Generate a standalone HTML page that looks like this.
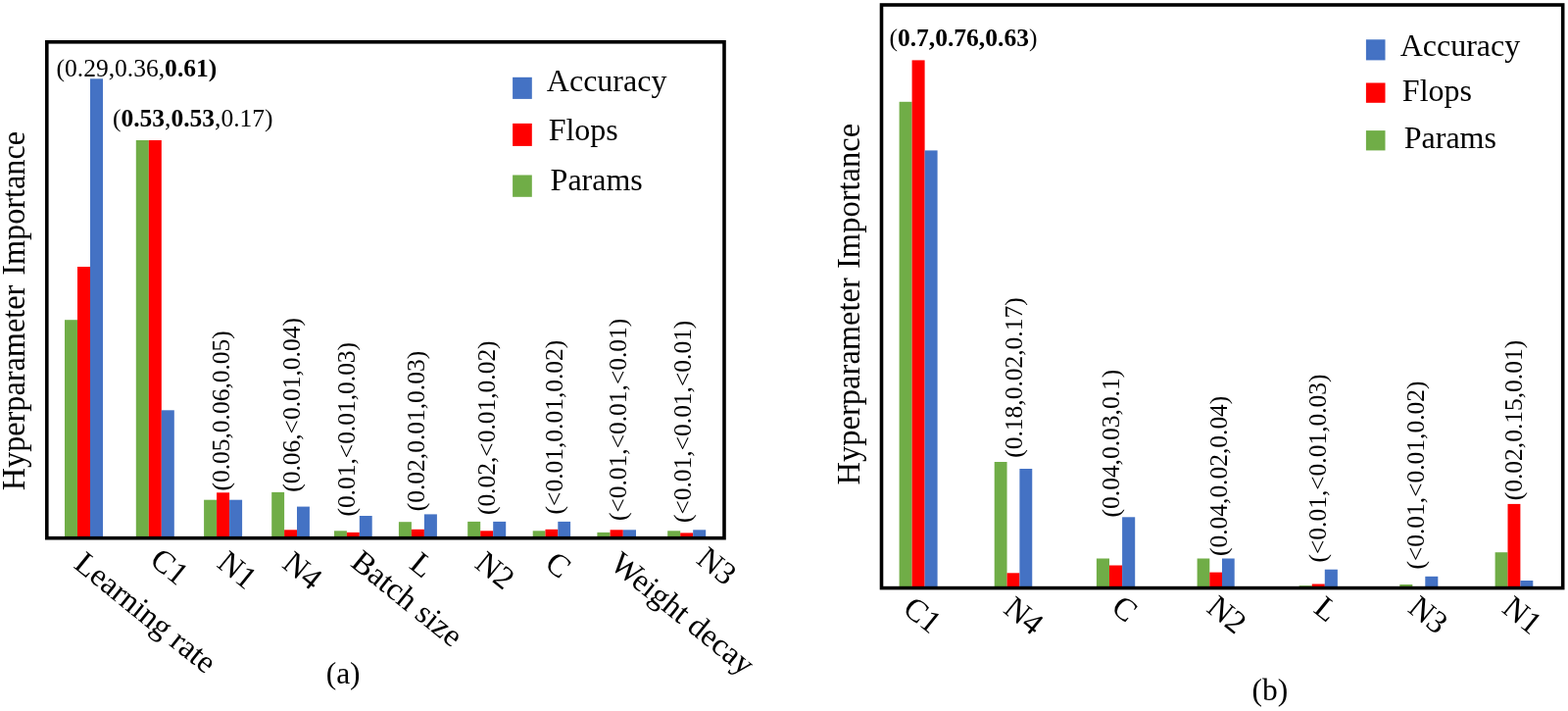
<!DOCTYPE html>
<html><head><meta charset="utf-8"><title>Hyperparameter Importance</title>
<style>
html,body{margin:0;padding:0;background:#fff;}
body{width:1600px;height:725px;overflow:hidden;}
svg{display:block;}
svg text{font-family:"Liberation Serif", serif;fill:#000;}
</style></head><body>
<svg width="1600" height="725" viewBox="0 0 1600 725">
<rect x="0" y="0" width="1600" height="725" fill="#fff"/>
<rect x="66.00" y="326.20" width="13.00" height="222.50" fill="#70AD47"/>
<rect x="79.00" y="272.00" width="13.00" height="276.70" fill="#FF0000"/>
<rect x="92.00" y="80.30" width="13.00" height="468.40" fill="#4472C4"/>
<rect x="138.80" y="143.00" width="13.00" height="405.70" fill="#70AD47"/>
<rect x="151.80" y="143.00" width="13.00" height="405.70" fill="#FF0000"/>
<rect x="164.80" y="418.30" width="13.00" height="130.40" fill="#4472C4"/>
<rect x="208.10" y="509.70" width="13.00" height="39.00" fill="#70AD47"/>
<rect x="221.10" y="502.30" width="13.00" height="46.40" fill="#FF0000"/>
<rect x="234.10" y="509.70" width="13.00" height="39.00" fill="#4472C4"/>
<rect x="277.20" y="501.90" width="12.90" height="46.80" fill="#70AD47"/>
<rect x="290.10" y="540.30" width="12.90" height="8.40" fill="#FF0000"/>
<rect x="303.00" y="516.60" width="12.90" height="32.10" fill="#4472C4"/>
<rect x="341.00" y="541.30" width="12.90" height="7.40" fill="#70AD47"/>
<rect x="353.90" y="542.90" width="12.90" height="5.80" fill="#FF0000"/>
<rect x="366.80" y="526.00" width="12.90" height="22.70" fill="#4472C4"/>
<rect x="406.90" y="532.20" width="13.00" height="16.50" fill="#70AD47"/>
<rect x="419.90" y="539.80" width="13.00" height="8.90" fill="#FF0000"/>
<rect x="432.90" y="524.40" width="13.00" height="24.30" fill="#4472C4"/>
<rect x="477.20" y="531.90" width="13.00" height="16.80" fill="#70AD47"/>
<rect x="490.20" y="541.30" width="13.00" height="7.40" fill="#FF0000"/>
<rect x="503.20" y="531.90" width="13.00" height="16.80" fill="#4472C4"/>
<rect x="543.70" y="541.30" width="12.80" height="7.40" fill="#70AD47"/>
<rect x="556.50" y="539.80" width="12.80" height="8.90" fill="#FF0000"/>
<rect x="569.30" y="531.90" width="12.80" height="16.80" fill="#4472C4"/>
<rect x="609.40" y="542.90" width="13.20" height="5.80" fill="#70AD47"/>
<rect x="622.60" y="540.30" width="13.20" height="8.40" fill="#FF0000"/>
<rect x="635.80" y="540.30" width="13.20" height="8.40" fill="#4472C4"/>
<rect x="681.20" y="541.30" width="13.00" height="7.40" fill="#70AD47"/>
<rect x="694.20" y="543.40" width="13.00" height="5.30" fill="#FF0000"/>
<rect x="707.20" y="540.30" width="13.00" height="8.40" fill="#4472C4"/>
<rect x="47.8" y="42.8" width="691.2" height="505.9" fill="none" stroke="#000" stroke-width="3.6"/>
<text transform="translate(25.30,500.30) rotate(-90) scale(1.0085,1.036)" font-size="32" word-spacing="1.9">Hyperparameter Importance</text>
<text transform="translate(57.57,77.80) scale(1.021,1)" font-size="25">(0.29,0.36,<tspan font-weight="bold">0.61)</tspan></text>
<text transform="translate(114.88,128.90) scale(1.021,1)" font-size="25">(<tspan font-weight="bold">0.53</tspan>,<tspan font-weight="bold">0.53</tspan>,0.17)</text>
<text transform="translate(233.70,500.55) rotate(-90) scale(1.019,1)" font-size="25">(0.05,0.06,0.05)</text>
<text transform="translate(305.50,501.80) rotate(-90) scale(1.019,1)" font-size="25">(0.06,&lt;0.01,0.04)</text>
<text transform="translate(361.62,526.60) rotate(-90) scale(1.019,1)" font-size="25">(0.01,&lt;0.01,0.03)</text>
<text transform="translate(432.50,521.20) rotate(-90) scale(1.019,1)" font-size="25">(0.02,0.01,0.03)</text>
<text transform="translate(505.05,525.08) rotate(-90) scale(1.019,1)" font-size="25">(0.02,&lt;0.01,0.02)</text>
<text transform="translate(574.45,524.38) rotate(-90) scale(1.019,1)" font-size="25">(&lt;0.01,0.01,0.02)</text>
<text transform="translate(638.80,531.10) rotate(-90) scale(1.019,1)" font-size="25">(&lt;0.01,&lt;0.01,&lt;0.01)</text>
<text transform="translate(704.85,533.05) rotate(-90) scale(1.019,1)" font-size="25">(&lt;0.01,&lt;0.01,&lt;0.01)</text>
<rect x="523.10" y="78.80" width="19.70" height="22.10" fill="#4472C4"/>
<rect x="523.10" y="125.90" width="19.70" height="23.00" fill="#FF0000"/>
<rect x="523.10" y="178.50" width="19.70" height="22.30" fill="#70AD47"/>
<text transform="translate(557.85,92.80)" font-size="32">Accuracy</text>
<text transform="translate(559.65,143.10)" font-size="32">Flops</text>
<text transform="translate(561.60,194.40)" font-size="32">Params</text>
<text transform="translate(74.00,578.00) rotate(39)" font-size="32.6">Learning rate</text>
<text transform="translate(151.62,574.05) rotate(39)" font-size="32.6">C1</text>
<text transform="translate(220.00,577.12) rotate(39)" font-size="32.6">N1</text>
<text transform="translate(286.50,577.62) rotate(39)" font-size="32.6">N4</text>
<text transform="translate(356.45,576.15) rotate(39)" font-size="32.6">Batch size</text>
<text transform="translate(416.35,578.25) rotate(39)" font-size="32.6">L</text>
<text transform="translate(483.00,577.50) rotate(39)" font-size="32.6">N2</text>
<text transform="translate(554.50,577.50) rotate(39)" font-size="32.6">C</text>
<text transform="translate(621.00,578.00) rotate(39)" font-size="32.6">Weight decay</text>
<text transform="translate(709.25,573.00) rotate(39)" font-size="32.6">N3</text>
<text transform="translate(332.65,696.70)" font-size="31.5">(a)</text>
<rect x="917.60" y="103.80" width="13.00" height="495.80" fill="#70AD47"/>
<rect x="930.60" y="61.40" width="13.00" height="538.20" fill="#FF0000"/>
<rect x="943.60" y="153.40" width="13.00" height="446.20" fill="#4472C4"/>
<rect x="1014.70" y="471.00" width="12.85" height="128.60" fill="#70AD47"/>
<rect x="1027.55" y="584.30" width="12.85" height="15.30" fill="#FF0000"/>
<rect x="1040.40" y="478.00" width="12.85" height="121.60" fill="#4472C4"/>
<rect x="1118.90" y="569.50" width="13.10" height="30.10" fill="#70AD47"/>
<rect x="1132.00" y="576.50" width="13.10" height="23.10" fill="#FF0000"/>
<rect x="1145.10" y="527.30" width="13.10" height="72.30" fill="#4472C4"/>
<rect x="1221.60" y="569.50" width="12.70" height="30.10" fill="#70AD47"/>
<rect x="1234.30" y="583.60" width="12.70" height="16.00" fill="#FF0000"/>
<rect x="1247.00" y="569.50" width="12.70" height="30.10" fill="#4472C4"/>
<rect x="1325.70" y="597.20" width="13.05" height="2.40" fill="#70AD47"/>
<rect x="1338.75" y="595.50" width="13.05" height="4.10" fill="#FF0000"/>
<rect x="1351.80" y="580.70" width="13.05" height="18.90" fill="#4472C4"/>
<rect x="1428.30" y="596.00" width="13.00" height="3.60" fill="#70AD47"/>
<rect x="1454.30" y="587.80" width="13.00" height="11.80" fill="#4472C4"/>
<rect x="1525.60" y="563.20" width="12.90" height="36.40" fill="#70AD47"/>
<rect x="1538.50" y="513.90" width="12.90" height="85.70" fill="#FF0000"/>
<rect x="1551.40" y="592.00" width="12.90" height="7.60" fill="#4472C4"/>
<rect x="899.5" y="5.0" width="695.2" height="594.6" fill="none" stroke="#000" stroke-width="3.6"/>
<text transform="translate(877.20,494.45) rotate(-90) scale(1.017,1.02)" font-size="32" word-spacing="1">Hyperparameter Importance</text>
<text transform="translate(907.45,46.50) scale(1.021,1)" font-size="25">(<tspan font-weight="bold">0.7,0.76,0.63</tspan>)</text>
<text transform="translate(1042.85,466.70) rotate(-90) scale(1.019,1)" font-size="25">(0.18,0.02,0.17)</text>
<text transform="translate(1142.15,527.40) rotate(-90) scale(1.019,1)" font-size="25">(0.04,0.03,0.1)</text>
<text transform="translate(1251.65,567.00) rotate(-90) scale(1.019,1)" font-size="25">(0.04,0.02,0.04)</text>
<text transform="translate(1353.45,573.50) rotate(-90) scale(1.019,1)" font-size="25">(&lt;0.01,&lt;0.01,0.03)</text>
<text transform="translate(1453.15,580.60) rotate(-90) scale(1.019,1)" font-size="25">(&lt;0.01,&lt;0.01,0.02)</text>
<text transform="translate(1552.85,510.20) rotate(-90) scale(1.019,1)" font-size="25">(0.02,0.15,0.01)</text>
<rect x="1393.90" y="40.30" width="19.60" height="21.10" fill="#4472C4"/>
<rect x="1393.90" y="84.50" width="19.60" height="20.30" fill="#FF0000"/>
<rect x="1393.90" y="133.10" width="19.60" height="20.30" fill="#70AD47"/>
<text transform="translate(1428.65,57.20)" font-size="32">Accuracy</text>
<text transform="translate(1430.85,102.70)" font-size="32">Flops</text>
<text transform="translate(1432.75,150.70)" font-size="32">Params</text>
<text transform="translate(919.75,623.45) rotate(39)" font-size="32.6">C1</text>
<text transform="translate(1022.40,623.60) rotate(39)" font-size="32.6">N4</text>
<text transform="translate(1132.60,622.25) rotate(39)" font-size="32.6">C</text>
<text transform="translate(1229.80,622.58) rotate(39)" font-size="32.6">N2</text>
<text transform="translate(1339.00,623.15) rotate(39)" font-size="32.6">L</text>
<text transform="translate(1435.25,622.65) rotate(39)" font-size="32.6">N3</text>
<text transform="translate(1531.25,623.08) rotate(39)" font-size="32.6">N1</text>
<text transform="translate(1277.50,714.40)" font-size="31.5">(b)</text>
</svg>
</body></html>
